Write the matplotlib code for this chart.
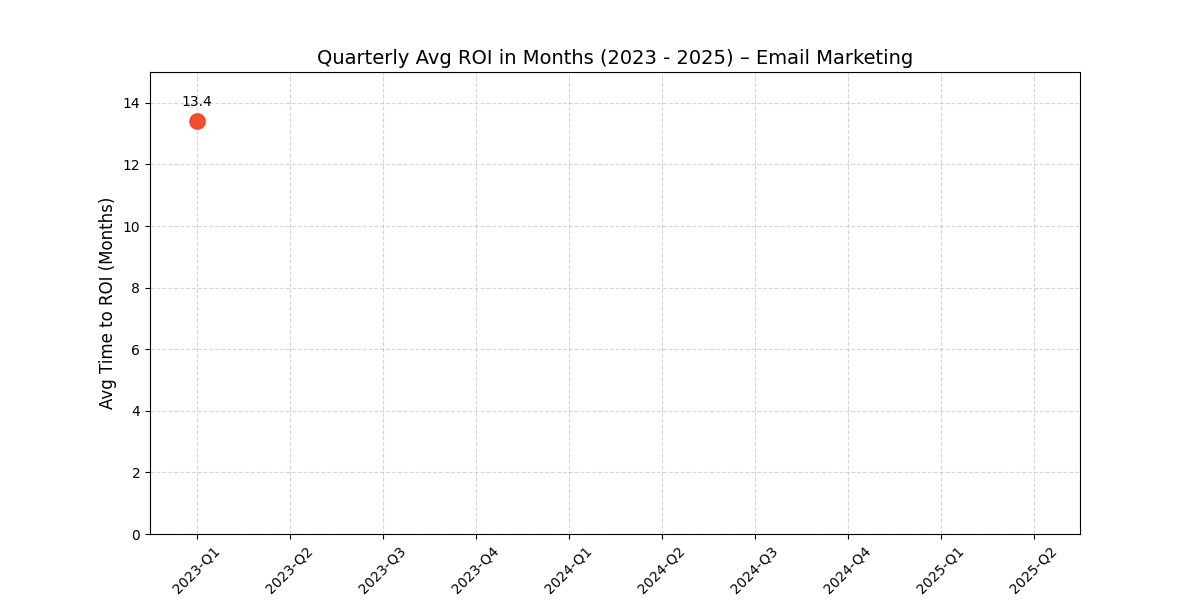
import matplotlib
matplotlib.use('Agg')
import matplotlib.pyplot as plt
import numpy as np

quarters = ['2023-Q1', '2023-Q2', '2023-Q3', '2023-Q4', '2024-Q1',
            '2024-Q2', '2024-Q3', '2024-Q4', '2025-Q1', '2025-Q2']
avg_roi = [13.4, np.nan, np.nan, np.nan, np.nan,
           np.nan, np.nan, np.nan, np.nan, np.nan]

x = np.arange(len(quarters))

fig, ax = plt.subplots(figsize=(12, 6))
ax.plot(x, avg_roi, marker='o', markersize=11, color='#F53B1C', alpha=0.9, linewidth=2)

for xi, v in zip(x, avg_roi):
    if not np.isnan(v):
        ax.annotate(f'{v:.1f}', (xi, v), textcoords='offset points', xytext=(0, 11),
                    ha='center', fontsize=10)

ax.set_title('Quarterly Avg ROI in Months (2023 - 2025) – Email Marketing', fontsize=14)
ax.set_ylabel('Avg Time to ROI (Months)', fontsize=12)
ax.set_xticks(x)
ax.set_xticklabels(quarters, rotation=45)
ax.set_xlim(-0.5, len(quarters) - 0.5)
ax.set_ylim(0, 15)
ax.grid(True, linestyle='--', alpha=0.5)

fig.savefig('out.png', dpi=100)
